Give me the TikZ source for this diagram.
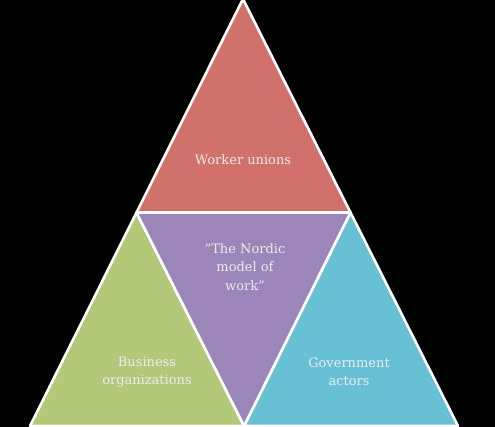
\documentclass[tikz,border=0pt]{standalone}
\usepackage{fontspec}
\setmainfont{DejaVu Serif}
\definecolor{unionred}{HTML}{D1716C}
\definecolor{businessgreen}{HTML}{B3C97A}
\definecolor{nordicpurple}{HTML}{9C85B8}
\definecolor{governmentcyan}{HTML}{67C0D4}
\tikzset{
  piece/.style={draw=white, line width=2.6pt, line join=round},
  label/.style={text=white!92!black, align=center, font=\fontsize{13}{18.5}\selectfont}
}
\begin{document}
\begin{tikzpicture}[x=1pt,y=1pt]
      \fill[black] (0,0) rectangle (495,427);
      \useasboundingbox (0,0) rectangle (495,427);
      % corners of the big triangle and the midpoints of its sides
      \coordinate (T) at (243,428);
      \coordinate (L) at (30,1);
      \coordinate (R) at (458,1);
      \coordinate (ML) at (136.5,214.5);
      \coordinate (MR) at (350.5,214.5);
      \coordinate (MB) at (244,1);
      \draw[piece, fill=unionred] (T) -- (MR) -- (ML) -- cycle;
      \draw[piece, fill=businessgreen] (ML) -- (MB) -- (L) -- cycle;
      \draw[piece, fill=governmentcyan] (MR) -- (R) -- (MB) -- cycle;
      \draw[piece, fill=nordicpurple] (ML) -- (MR) -- (MB) -- cycle;
      \node[label] (unions) at (243,267) {Worker unions};
      \node[label] (nordic) at (245,160) {\symbol{34}The Nordic\\model of\\work\symbol{34}};
      \node[label] (business) at (147,55) {Business\\organizations};
      \node[label] (government) at (349,55) {Government\\actors};
    \end{tikzpicture}
\end{document}
